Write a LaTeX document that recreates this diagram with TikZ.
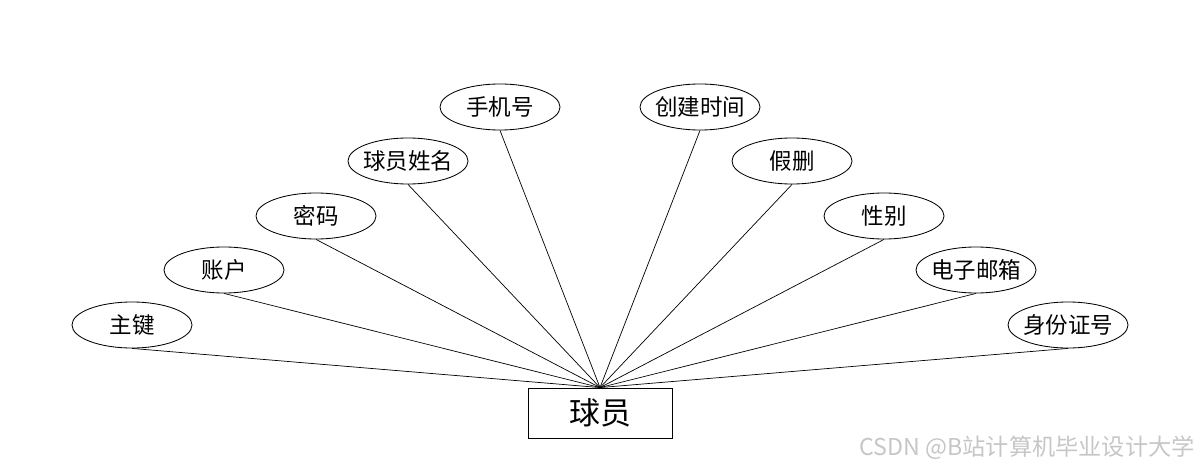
\documentclass[tikz,border=0pt]{standalone}
\usepackage{fontspec}
\newfontfamily\cjk{Noto Sans CJK SC}
\usetikzlibrary{positioning, shapes.geometric}

\begin{document}
\begin{tikzpicture}[x=0.025cm, y=0.025cm]
    \tikzset{
        attr/.style={
                ellipse, draw=black, line width=0.6pt, fill=white,
                minimum width=3cm, minimum height=1.15cm, inner sep=0pt, inner xsep=-10pt,
                font=\cjk\fontsize{16}{18}\selectfont
            },
        entity/.style={
                rectangle, draw=black, line width=0.6pt, fill=white,
                minimum width=3.6cm, minimum height=1.25cm, inner sep=0pt,
                font=\cjk\fontsize{22}{26}\selectfont
            },
        link/.style={
                line width=0.5pt, draw=black
            },
        watermark/.style={
                font=\cjk\fontsize{16.5}{19}\selectfont, text=gray!45, anchor=east, inner sep=0pt
            }
    }

    \useasboundingbox (0, 0) rectangle (1200, 468);

    \node[entity] (player) at (600, 55) {球员};

    % left side
    \node[attr] (pk) at (132, 143) {主键};
    \node[attr] (account) at (224, 198) {账户};
    \node[attr] (password) at (316, 252) {密码};
    \node[attr] (name) at (408, 307) {球员姓名};
    \node[attr] (phone) at (500, 361) {手机号};
    % right side
    \node[attr] (created) at (700, 361) {创建时间};
    \node[attr] (deleted) at (792, 307) {假删};
    \node[attr] (gender) at (884, 252) {性别};
    \node[attr] (email) at (976, 198) {电子邮箱};
    \node[attr] (idcard) at (1068, 143) {身份证号};

    % connectors
    \draw[link] (player.north) -- (pk.south);
    \draw[link] (player.north) -- (account.south);
    \draw[link] (player.north) -- (password.south);
    \draw[link] (player.north) -- (name.south);
    \draw[link] (player.north) -- (phone.south);
    \draw[link] (player.north) -- (created.south);
    \draw[link] (player.north) -- (deleted.south);
    \draw[link] (player.north) -- (gender.south);
    \draw[link] (player.north) -- (email.south);
    \draw[link] (player.north) -- (idcard.south);

    \node[watermark] (mark) at (1195, 20) {CSDN @B站计算机毕业设计大学};
\end{tikzpicture}
\end{document}
